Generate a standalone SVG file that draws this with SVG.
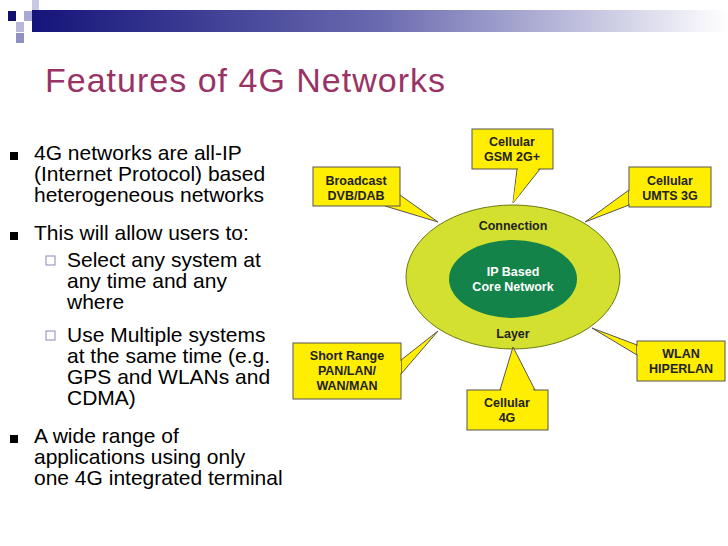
<svg xmlns="http://www.w3.org/2000/svg" width="728" height="546" viewBox="0 0 728 546">
<defs>
<linearGradient id="bar" x1="0" x2="1" y1="0" y2="0">
<stop offset="0" stop-color="#14147a"/><stop offset="0.5" stop-color="#6a6ab0"/><stop offset="1" stop-color="#ffffff"/>
</linearGradient>
<style>
.t{font-family:"Liberation Sans",Arial,sans-serif;font-size:21px;fill:#000}
.b{fill:#ffee00;stroke:#555;stroke-width:1}
.l{font-family:"Liberation Sans",Arial,sans-serif;font-size:12.5px;font-weight:bold;fill:#222;text-anchor:middle}
</style>
</defs>
<rect width="728" height="546" fill="#fff"/>
<rect x="32" y="10" width="696" height="22" fill="url(#bar)"/>
<rect x="8" y="11" width="8" height="10" fill="#10106e"/>
<rect x="32" y="0" width="7" height="10" fill="#c8c8e4"/>
<rect x="24" y="11" width="8" height="10" fill="#a8a8d4"/>
<rect x="16" y="22" width="8" height="10" fill="#b8b8dc"/>
<rect x="16" y="33" width="8" height="10" fill="#9090c4"/>
<text x="45" y="92" font-family="Liberation Sans,Arial,sans-serif" font-size="34" fill="#993366" textLength="400">Features of 4G Networks</text>
<g id="bullets">
<rect x="10" y="152" width="8" height="8" fill="#000"/>
<rect x="10" y="232" width="8" height="8" fill="#000"/>
<rect x="10" y="435" width="8" height="8" fill="#000"/>
<rect x="46" y="256" width="9" height="9" fill="none" stroke="#8888bb"/>
<rect x="46" y="331" width="9" height="9" fill="none" stroke="#8888bb"/>
<text class="t" x="34" y="160">4G networks are all-IP</text>
<text class="t" x="34" y="181">(Internet Protocol) based</text>
<text class="t" x="34" y="202">heterogeneous networks</text>
<text class="t" x="34" y="240">This will allow users to:</text>
<text class="t" x="67" y="267">Select any system at</text>
<text class="t" x="67" y="288">any time and any</text>
<text class="t" x="67" y="309">where</text>
<text class="t" x="67" y="342">Use Multiple systems</text>
<text class="t" x="67" y="363">at the same time (e.g.</text>
<text class="t" x="67" y="384">GPS and WLANs and</text>
<text class="t" x="67" y="405">CDMA)</text>
<text class="t" x="34" y="443">A wide range of</text>
<text class="t" x="34" y="464">applications using only</text>
<text class="t" x="34" y="485">one 4G integrated terminal</text>
</g>
<g id="core">
<ellipse cx="513" cy="277" rx="107" ry="72" fill="#d4e030" stroke="#6a7a10" stroke-width="1"/>
<ellipse cx="513" cy="279" rx="64" ry="39" fill="#13834a"/>
<text class="l" x="513" y="230">Connection</text>
<text class="l" x="513" y="338">Layer</text>
<text class="l" x="513" y="276" style="fill:#fff">IP Based</text>
<text class="l" x="513" y="291" style="fill:#fff">Core Network</text>
</g>
<g id="connectors">
<polygon class="b" points="517,169 513,203 540,169"/>
<polygon class="b" points="385,206 438,222 400,195"/>
<polygon class="b" points="629,190 585,222 629,205"/>
<polygon class="b" points="401,360 438,331 401,374"/>
<polygon class="b" points="637,355 592,328 637,345"/>
<polygon class="b" points="500,390 513,347 535,390"/>
</g>
<g id="gsm"><rect class="b" x="472" y="129" width="81" height="40"/><polygon points="518,168 539,168 513,203" fill="#ffee00"/><text class="l" x="512" y="146">Cellular</text><text class="l" x="512" y="161">GSM 2G+</text></g>
<g id="broadcast"><rect class="b" x="313" y="167" width="87" height="39"/><polygon points="386,205 399,205 399,197" fill="#ffee00"/><text class="l" x="356" y="185">Broadcast</text><text class="l" x="356" y="200">DVB/DAB</text></g>
<g id="umts"><rect class="b" x="629" y="167" width="82" height="40"/><polygon points="630,191 630,204" stroke="#ffee00" stroke-width="2"/><text class="l" x="670" y="185">Cellular</text><text class="l" x="670" y="200">UMTS 3G</text></g>
<g id="short"><rect class="b" x="293" y="343" width="108" height="56"/><polygon points="400,361 400,373" stroke="#ffee00" stroke-width="2"/><text class="l" x="347" y="360">Short Range</text><text class="l" x="347" y="375">PAN/LAN/</text><text class="l" x="347" y="390">WAN/MAN</text></g>
<g id="wlan"><rect class="b" x="637" y="341" width="88" height="40"/><polygon points="638,346 638,354" stroke="#ffee00" stroke-width="2"/><text class="l" x="681" y="358">WLAN</text><text class="l" x="681" y="373">HIPERLAN</text></g>
<g id="cell4g"><rect class="b" x="467" y="390" width="81" height="40"/><polygon points="501,391 534,391 513,350" fill="#ffee00"/><text class="l" x="507" y="407">Cellular</text><text class="l" x="507" y="422">4G</text></g>
</svg>
